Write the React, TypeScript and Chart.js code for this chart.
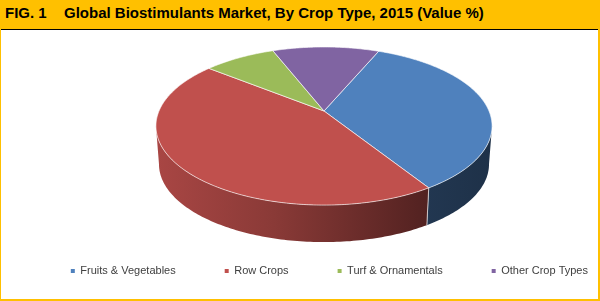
import React, { useEffect, useRef } from "react";
import { Chart, registerables } from "chart.js";

Chart.register(...registerables);

const categories = ["Fruits & Vegetables", "Row Crops", "Turf & Ornamentals", "Other Crop Types"];
const values = [34.7, 44.7, 8.3, 12.3];
const sliceColors = ["#4F81BD", "#C0504D", "#9BBB59", "#8064A2"];
const figLabel = "FIG. 1";
const titleText = "Global Biostimulants Market, By Crop Type, 2015 (Value %)";

// projection of the tilted pie (style constants)
const GEO = {
  cx: 324, cy: 111, rx: 165, ry: 76.2, p: 0.19,
  bcx: 324, bcy: 149.5, brx: 162, bry: 75,
};

function hexToRgb(h: string): [number, number, number] {
  const s = h.replace("#", "");
  return [parseInt(s.slice(0, 2), 16), parseInt(s.slice(2, 4), 16), parseInt(s.slice(4, 6), 16)];
}
function shade(rgb: [number, number, number], f: number) {
  return `rgb(${Math.round(rgb[0] * f)},${Math.round(rgb[1] * f)},${Math.round(rgb[2] * f)})`;
}
function proj(a: number, cx: number, cy: number, rx: number, ry: number, p: number): [number, number] {
  const u = Math.cos(a);
  const v = Math.sin(a);
  const s = 1 / (1 - p * v);
  return [cx + rx * u * s, cy + ry * v * s];
}
const topPt = (a: number) => proj(a, GEO.cx, GEO.cy, GEO.rx, GEO.ry, GEO.p);
const botPt = (a: number) => proj(a, GEO.bcx, GEO.bcy, GEO.brx, GEO.bry, GEO.p);

const pie3d = {
  id: "pie3d",
  beforeDatasetsDraw(chart: any) {
    const ctx: CanvasRenderingContext2D = chart.ctx;
    const meta = chart.getDatasetMeta(0);
    const arcs = meta.data;
    const colors: string[] = chart.data.datasets[0].backgroundColor;
    const aR = Math.asin(GEO.p);
    const aL = Math.PI - aR;
    const TWO = Math.PI * 2;
    ctx.save();
    // sides
    arcs.forEach((el: any, i: number) => {
      const rgb = hexToRgb(colors[i]);
      for (const k of [-2, -1, 0, 1, 2]) {
        const s = Math.max(el.startAngle + k * TWO, aR);
        const e = Math.min(el.endAngle + k * TWO, aL);
        if (e <= s) continue;
        const n = Math.max(8, Math.ceil((e - s) * 60));
        ctx.beginPath();
        for (let j = 0; j <= n; j++) {
          const a = s + ((e - s) * j) / n;
          const [x, y] = topPt(a);
          if (j === 0) ctx.moveTo(x, y); else ctx.lineTo(x, y);
        }
        for (let j = n; j >= 0; j--) {
          const a = s + ((e - s) * j) / n;
          const [x, y] = botPt(a);
          ctx.lineTo(x, y);
        }
        ctx.closePath();
        const g = ctx.createLinearGradient(GEO.cx - GEO.rx * 1.02, 0, GEO.cx + GEO.rx * 1.02, 0);
        g.addColorStop(0, shade(rgb, 0.88));
        g.addColorStop(0.35, shade(rgb, 0.72));
        g.addColorStop(0.8, shade(rgb, 0.43));
        g.addColorStop(1, shade(rgb, 0.38));
        ctx.fillStyle = g;
        ctx.fill();
        // slice boundary edges on the side
        ctx.strokeStyle = "rgba(255,255,255,0.55)";
        ctx.lineWidth = 1;
        for (const a of [s, e]) {
          if (a > aR + 1e-6 && a < aL - 1e-6) {
            const [x1, y1] = topPt(a);
            const [x2, y2] = botPt(a);
            ctx.beginPath();
            ctx.moveTo(x1, y1);
            ctx.lineTo(x2, y2);
            ctx.stroke();
          }
        }
      }
    });
    // tops
    arcs.forEach((el: any, i: number) => {
      const s = el.startAngle;
      const e = el.endAngle;
      const n = Math.max(8, Math.ceil((e - s) * 80));
      ctx.beginPath();
      ctx.moveTo(GEO.cx, GEO.cy);
      for (let j = 0; j <= n; j++) {
        const a = s + ((e - s) * j) / n;
        const [x, y] = topPt(a);
        ctx.lineTo(x, y);
      }
      ctx.closePath();
      ctx.fillStyle = colors[i];
      ctx.fill();
      ctx.strokeStyle = "rgba(255,255,255,0.7)";
      ctx.lineWidth = 0.9;
      ctx.lineJoin = "round";
      ctx.stroke();
    });
    ctx.restore();
    return false;
  },
};

export default function App() {
  const ref = useRef<HTMLCanvasElement | null>(null);
  useEffect(() => {
    if (!ref.current) return;
    const chart = new Chart(ref.current, {
      type: "pie",
      data: {
        labels: categories,
        datasets: [
          {
            data: values,
            backgroundColor: sliceColors,
            borderWidth: 0,
          },
        ],
      },
      options: {
        responsive: false,
        animation: false,
        events: [],
        rotation: 22.9,
        layout: { padding: { left: -1.2, right: -60, top: 30, bottom: 14.5 } },
        plugins: {
          title: { display: false },
          tooltip: { enabled: false },
          legend: {
            position: "bottom",
            labels: {
              boxWidth: 4,
              boxHeight: 4,
              padding: 49,
              color: "#404040",
              font: { family: "'Liberation Sans', Arial, sans-serif", size: 11 },
            },
          },
        },
      },
      plugins: [pie3d],
    } as any);
    return () => chart.destroy();
  }, []);

  return (
    <div style={{ position: "absolute", left: 0, top: 0, width: 600, height: 301, background: "#FFC000", overflow: "hidden" }}>
      <div
        style={{
          position: "absolute", left: 1, top: 29, width: 597, height: 270,
          background: "#fff", borderTop: "1px solid #000", boxSizing: "border-box",
        }}
      />
      <div
        style={{
          position: "absolute", left: 5, top: 0, height: 29, lineHeight: "25px",
          fontFamily: "'Liberation Sans', Arial, sans-serif", fontWeight: "bold", fontSize: 15, color: "#000", whiteSpace: "nowrap",
        }}
      >
        {figLabel}
      </div>
      <div
        style={{
          position: "absolute", left: 64, top: 0, height: 29, lineHeight: "25px",
          fontFamily: "'Liberation Sans', Arial, sans-serif", fontWeight: "bold", fontSize: 15, color: "#000", whiteSpace: "nowrap",
        }}
      >
        {titleText}
      </div>
      <canvas ref={ref} width={600} height={301} style={{ position: "absolute", left: 0, top: 0, width: 600, height: 301 }} />
    </div>
  );
}
